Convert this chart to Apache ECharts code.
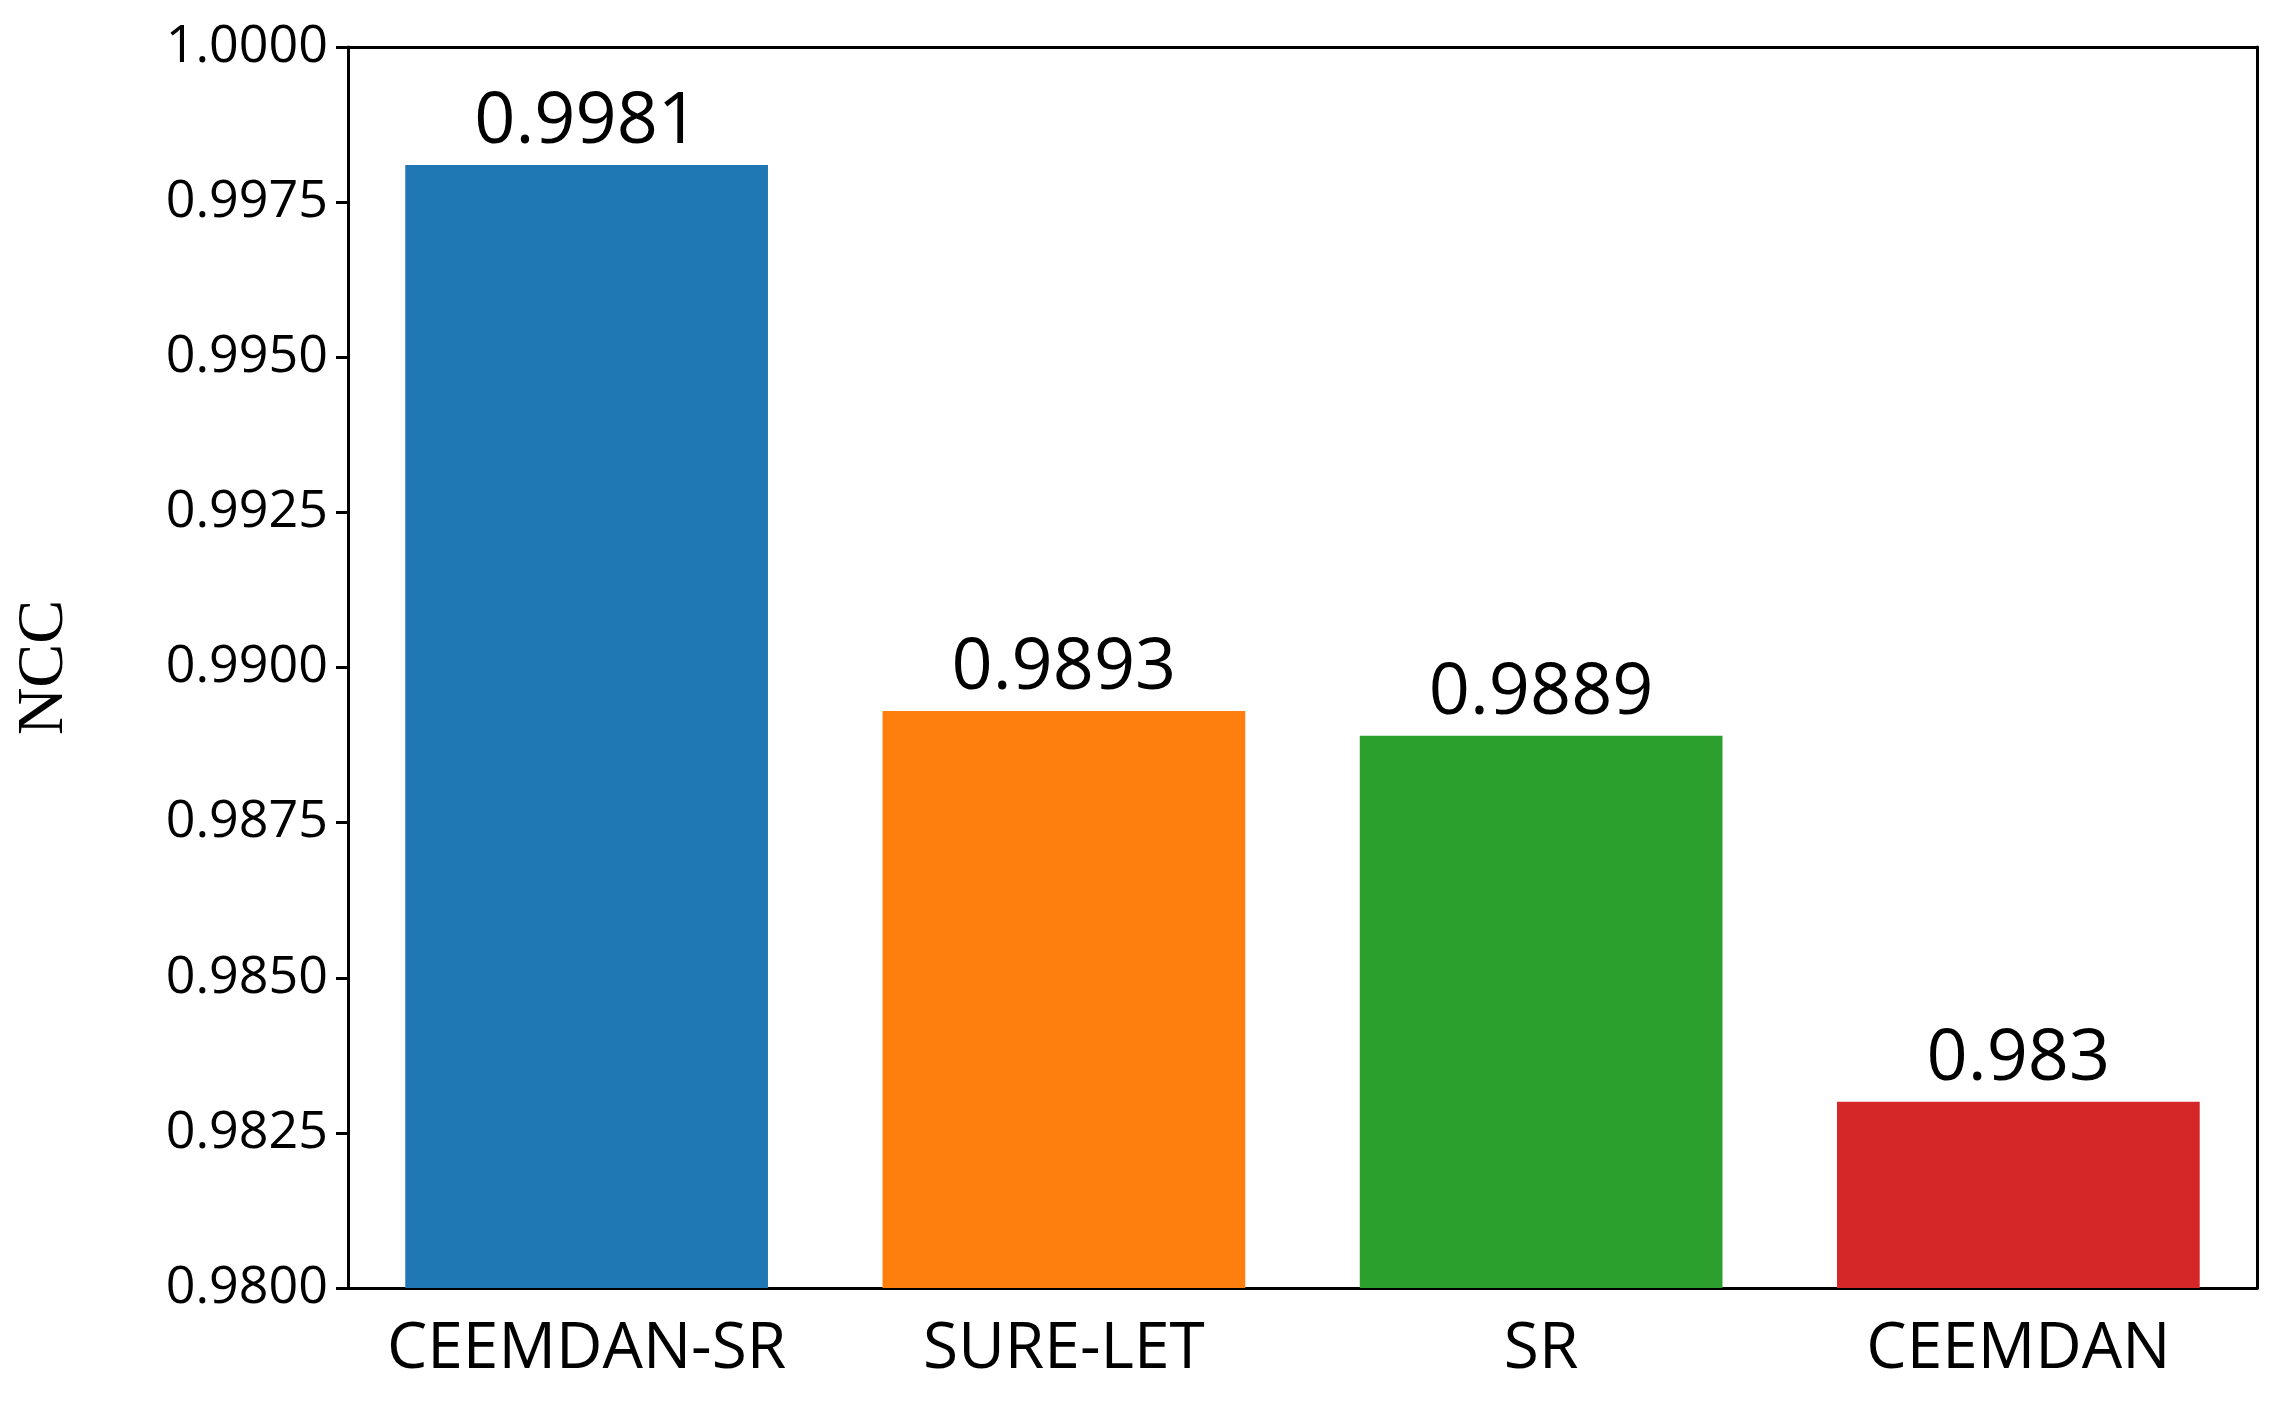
<!DOCTYPE html>
<html><head><meta charset="utf-8">
<script src="https://cdn.jsdelivr.net/npm/echarts@6/dist/echarts.min.js"></script>
<style>html,body{margin:0;background:#fff}#c{width:2289px;height:1420px}</style>
</head><body><div id="c"></div>
<script>
const categories = ['CEEMDAN-SR','SURE-LET','SR','CEEMDAN'];
const values = [0.9981, 0.9893, 0.9889, 0.983];
const colors = ['#1f77b4','#ff7f0e','#2ca02c','#d62728'];
const chart = echarts.init(document.getElementById('c'));
const font = '"Open Sans", "Noto Sans", sans-serif';
chart.setOption({
  animation:false,
  grid:{left:348,right:32,top:47,bottom:132},
  xAxis:[{type:'category',data:categories,
    axisLine:{lineStyle:{color:'#000',width:3}},
    axisTick:{alignWithLabel:true,interval:0,length:12,lineStyle:{color:'#000',width:3}},
    axisLabel:{interval:0,color:'#000',fontSize:64,fontFamily:font,margin:30}},
   {type:'category',position:'top',data:categories,axisLine:{show:true,lineStyle:{color:'#000',width:3}},axisTick:{show:false},axisLabel:{show:false}}],
  yAxis:[{type:'value',min:0.98,max:1.0,interval:0.0025,name:'NCC',nameLocation:'middle',nameGap:270,
    nameTextStyle:{fontSize:66,fontFamily:'"Liberation Serif", serif',color:'#000'},
    splitLine:{show:false},
    axisLine:{show:true,lineStyle:{color:'#000',width:3}},
    axisTick:{show:true,length:12,lineStyle:{color:'#000',width:3}},
    axisLabel:{color:'#000',fontSize:52,fontFamily:font,margin:20,formatter:v=>v.toFixed(4)}},
   {type:'value',position:'right',min:0.98,max:1.0,splitLine:{show:false},axisLine:{show:true,lineStyle:{color:'#000',width:3}},axisTick:{show:false},axisLabel:{show:false}}],
  series:[{type:'bar',barCategoryGap:'24%',
    data:values.map((v,i)=>({value:v,itemStyle:{color:colors[i]}})),
    label:{show:true,position:'top',distance:6,color:'#000',fontSize:72,fontFamily:font,formatter:p=>String(p.value)}}]
});
</script></body></html>
